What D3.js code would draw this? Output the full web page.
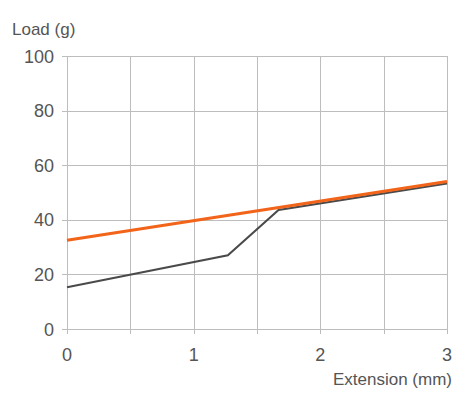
<!DOCTYPE html>
<html>
<head>
<meta charset="utf-8">
<script src="https://cdn.jsdelivr.net/npm/d3@7"></script>
<style>
  body { margin: 0; background: #fff; }
  text { font-family: "Liberation Sans", Arial, sans-serif; fill: #555; }
</style>
</head>
<body>
<script>
const width = 474;
const height = 397;

// data
const xTicks = [0, 1, 2, 3];
const yTicks = [0, 20, 40, 60, 80, 100];
const orangeSeries = [
    { x: 0, y: 32.5 },
    { x: 3, y: 54 }
];
const graySeries = [
    { x: 0, y: 15.3 },
    { x: 1.27, y: 27 },
    { x: 1.67, y: 43.6 },
    { x: 3, y: 53.3 }
];

const margin = { left: 67, right: 27, top: 56, bottom: 68 };

const svg = d3.select('body').append('svg')
    .attr('width', width)
    .attr('height', height);

const x = d3.scaleLinear().domain([0, 3]).range([margin.left, width - margin.right]);
const y = d3.scaleLinear().domain([0, 100]).range([height - margin.bottom, margin.top]);

const grid = svg.append("g")
    .attr("stroke", "#bdbdbd")
    .attr("stroke-width", 1);

// vertical grid lines every 0.5, reaching a little below the axis
d3.range(0, 3.01, 0.5).forEach(v => {
    grid.append("line")
        .attr("x1", Math.round(x(v)) + 0.5)
        .attr("x2", Math.round(x(v)) + 0.5)
        .attr("y1", y(100))
        .attr("y2", y(0) + 5);
});

// horizontal grid lines, reaching a little left of the axis
yTicks.forEach(v => {
    grid.append("line")
        .attr("x1", x(0) - 5)
        .attr("x2", x(3))
        .attr("y1", Math.round(y(v)) + 0.5)
        .attr("y2", Math.round(y(v)) + 0.5);
});

svg.append("g").selectAll("text")
    .data(yTicks)
    .join("text")
    .attr("x", x(0) - 13)
    .attr("y", d => y(d) + 6.5)
    .attr("text-anchor", "end")
    .attr("font-size", "18px")
    .text(d => d);

svg.append("g").selectAll("text")
    .data(xTicks)
    .join("text")
    .attr("x", d => x(d))
    .attr("y", y(0) + 32)
    .attr("text-anchor", "middle")
    .attr("font-size", "18px")
    .text(d => d);

svg.append("text")
    .attr("x", 12)
    .attr("y", 35)
    .attr("font-size", "17px")
    .text("Load (g)");

svg.append("text")
    .attr("x", x(3) + 5)
    .attr("y", 385)
    .attr("text-anchor", "end")
    .attr("font-size", "17px")
    .text("Extension (mm)");

const line = d3.line()
    .x(d => x(d.x))
    .y(d => y(d.y));

svg.append("path")
    .attr("d", line(graySeries))
    .attr("fill", "none")
    .attr("stroke", "#4a4a4a")
    .attr("stroke-width", 2);

svg.append("path")
    .attr("d", line(orangeSeries))
    .attr("fill", "none")
    .attr("stroke", "#f26419")
    .attr("stroke-width", 3);
</script>
</body>
</html>
